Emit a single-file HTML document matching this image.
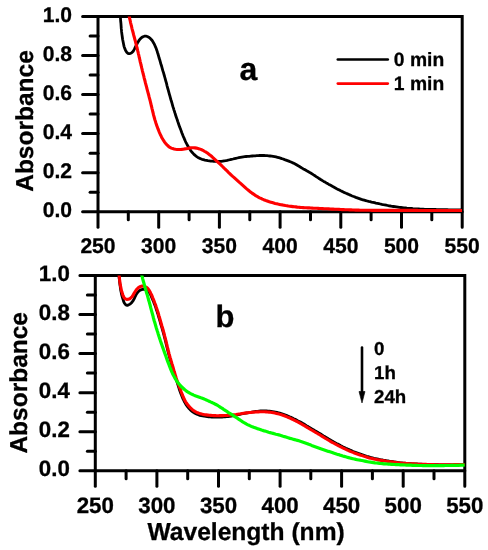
<!DOCTYPE html>
<html><head><meta charset="utf-8"><title>Absorbance spectra</title>
<style>html,body{margin:0;padding:0;background:#fff;}svg{display:block;}svg text{font-family:"Liberation Sans","Arial",sans-serif;font-weight:bold;stroke:#000;stroke-width:0.3px;text-rendering:geometricPrecision;}</style></head>
<body>
<svg width="488" height="550" viewBox="0 0 488 550" fill="#000">
<rect width="488" height="550" fill="#fff"/>
<defs><clipPath id="ca"><rect x="98" y="16.4" width="364.2" height="198"/></clipPath><clipPath id="cb"><rect x="95.3" y="275.5" width="369.5" height="198"/></clipPath></defs>
<g fill="none" stroke="#000" stroke-width="3" stroke-linecap="round" stroke-linejoin="miter"><path d="M82.6,16.4 H462.2 V227.2" /><path d="M98.0,16.4 V227.2" /><path d="M82.6,211.8 H462.2" /><path d="M90.1,35.9 H98.0" /><path d="M82.6,55.5 H98.0" /><path d="M90.1,75.0 H98.0" /><path d="M82.6,94.6 H98.0" /><path d="M90.1,114.1 H98.0" /><path d="M82.6,133.6 H98.0" /><path d="M90.1,153.2 H98.0" /><path d="M82.6,172.7 H98.0" /><path d="M90.1,192.3 H98.0" /><path d="M128.3,211.8 V219.7" /><path d="M158.7,211.8 V227.2" /><path d="M189.1,211.8 V219.7" /><path d="M219.4,211.8 V227.2" /><path d="M249.8,211.8 V219.7" /><path d="M280.1,211.8 V227.2" /><path d="M310.5,211.8 V219.7" /><path d="M340.8,211.8 V227.2" /><path d="M371.1,211.8 V219.7" /><path d="M401.5,211.8 V227.2" /><path d="M431.8,211.8 V219.7" /></g>
<g clip-path="url(#ca)" fill="none" stroke-width="2.8" stroke-linejoin="round" stroke-linecap="butt">
<path d="M120.2,14.0 L120.3,15.5 L120.4,17.0 L120.5,18.5 L120.6,20.0 L120.7,21.5 L120.9,23.0 L121.0,24.4 L121.1,25.9 L121.2,27.4 L121.3,28.9 L121.5,30.4 L121.6,31.9 L121.8,33.4 L122.0,34.9 L122.2,36.3 L122.4,37.8 L122.6,39.3 L122.9,40.8 L123.2,42.3 L123.5,43.7 L123.8,45.2 L124.1,46.6 L124.6,48.0 L125.1,49.4 L125.8,50.8 L126.7,52.2 L127.8,53.3 L129.1,53.7 L130.6,53.4 L131.9,52.6 L133.0,51.5 L133.8,50.2 L134.5,48.9 L135.2,47.5 L135.8,46.2 L136.5,44.8 L137.2,43.5 L137.9,42.2 L138.7,40.9 L139.5,39.7 L140.5,38.6 L141.7,37.5 L143.0,36.7 L144.4,36.2 L145.9,36.1 L147.3,36.5 L148.7,37.2 L149.9,38.1 L151.0,39.2 L152.0,40.3 L152.8,41.6 L153.6,42.9 L154.3,44.2 L154.9,45.5 L155.5,46.9 L156.1,48.3 L156.6,49.7 L157.1,51.1 L157.5,52.5 L158.0,54.0 L158.4,55.4 L158.8,56.9 L159.2,58.3 L159.7,59.7 L160.1,61.2 L160.5,62.6 L160.9,64.0 L161.4,65.5 L161.8,66.9 L162.2,68.3 L162.6,69.8 L163.0,71.2 L163.5,72.6 L163.9,74.1 L164.3,75.5 L164.7,77.0 L165.1,78.4 L165.5,79.8 L165.9,81.3 L166.3,82.7 L166.7,84.2 L167.0,85.6 L167.4,87.1 L167.8,88.5 L168.2,89.9 L168.6,91.4 L169.0,92.8 L169.4,94.3 L169.8,95.7 L170.2,97.1 L170.6,98.6 L171.0,100.0 L171.5,101.5 L171.9,102.9 L172.3,104.3 L172.7,105.8 L173.1,107.2 L173.6,108.6 L174.0,110.1 L174.5,111.5 L174.9,112.9 L175.4,114.3 L175.8,115.8 L176.3,117.2 L176.8,118.6 L177.3,120.0 L177.7,121.4 L178.2,122.8 L178.7,124.3 L179.2,125.7 L179.7,127.1 L180.3,128.5 L180.8,129.9 L181.3,131.3 L181.8,132.7 L182.4,134.1 L182.9,135.5 L183.5,136.9 L184.1,138.2 L184.7,139.6 L185.3,141.0 L185.9,142.3 L186.6,143.7 L187.3,145.0 L188.0,146.3 L188.8,147.6 L189.6,148.8 L190.4,150.1 L191.3,151.3 L192.3,152.5 L193.3,153.6 L194.3,154.7 L195.5,155.7 L196.7,156.6 L197.9,157.4 L199.2,158.1 L200.6,158.7 L202.0,159.3 L203.4,159.7 L204.9,160.1 L206.4,160.4 L207.8,160.7 L209.3,160.9 L210.8,161.1 L212.3,161.2 L213.8,161.3 L215.3,161.4 L216.8,161.4 L218.3,161.4 L219.8,161.4 L221.3,161.3 L222.8,161.1 L224.2,160.9 L225.7,160.7 L227.2,160.4 L228.6,160.0 L230.1,159.7 L231.5,159.3 L233.0,159.0 L234.5,158.6 L235.9,158.3 L237.4,158.0 L238.8,157.7 L240.3,157.4 L241.8,157.1 L243.3,156.9 L244.7,156.7 L246.2,156.5 L247.7,156.4 L249.2,156.3 L250.7,156.1 L252.2,156.0 L253.7,155.9 L255.2,155.8 L256.7,155.7 L258.2,155.6 L259.7,155.5 L261.2,155.5 L262.6,155.5 L264.1,155.5 L265.6,155.6 L267.1,155.7 L268.6,155.8 L270.1,156.0 L271.6,156.2 L273.1,156.4 L274.6,156.6 L276.0,156.9 L277.5,157.3 L278.9,157.7 L280.4,158.1 L281.8,158.6 L283.2,159.0 L284.6,159.6 L286.0,160.1 L287.4,160.6 L288.8,161.1 L290.2,161.7 L291.6,162.3 L292.9,162.9 L294.3,163.5 L295.6,164.2 L296.9,165.0 L298.2,165.8 L299.5,166.5 L300.7,167.3 L302.0,168.1 L303.3,168.9 L304.6,169.6 L305.9,170.3 L307.2,171.1 L308.5,171.8 L309.8,172.6 L311.1,173.3 L312.4,174.1 L313.6,174.9 L314.9,175.7 L316.1,176.6 L317.4,177.4 L318.6,178.2 L319.9,179.0 L321.1,179.8 L322.4,180.6 L323.7,181.4 L325.0,182.1 L326.3,182.9 L327.6,183.6 L328.9,184.4 L330.2,185.1 L331.5,185.8 L332.8,186.6 L334.1,187.3 L335.4,188.0 L336.7,188.7 L338.1,189.4 L339.4,190.1 L340.7,190.8 L342.1,191.4 L343.4,192.1 L344.8,192.7 L346.1,193.3 L347.5,193.9 L348.9,194.5 L350.3,195.1 L351.6,195.7 L353.0,196.3 L354.4,196.8 L355.8,197.4 L357.2,197.9 L358.6,198.4 L360.0,198.9 L361.4,199.4 L362.9,199.8 L364.3,200.2 L365.7,200.6 L367.2,201.0 L368.6,201.4 L370.1,201.7 L371.5,202.1 L373.0,202.4 L374.5,202.7 L375.9,203.1 L377.4,203.4 L378.8,203.7 L380.3,204.0 L381.8,204.4 L383.2,204.7 L384.7,204.9 L386.2,205.2 L387.6,205.5 L389.1,205.8 L390.6,206.0 L392.1,206.3 L393.5,206.5 L395.0,206.7 L396.5,206.9 L398.0,207.1 L399.5,207.3 L400.9,207.5 L402.4,207.7 L403.9,207.9 L405.4,208.0 L406.9,208.2 L408.4,208.3 L409.9,208.4 L411.4,208.5 L412.9,208.7 L414.4,208.8 L415.8,208.9 L417.3,208.9 L418.8,209.0 L420.3,209.1 L421.8,209.1 L423.3,209.2 L424.8,209.3 L426.3,209.3 L427.8,209.3 L429.3,209.4 L430.8,209.4 L432.3,209.5 L433.8,209.5 L435.3,209.5 L436.8,209.6 L438.3,209.6 L439.8,209.6 L441.3,209.6 L442.8,209.7 L444.3,209.7 L445.7,209.7 L447.2,209.7 L448.7,209.8 L450.2,209.8 L451.7,209.8 L453.2,209.8 L454.7,209.8 L456.2,209.8 L457.7,209.9 L459.2,209.9 L460.7,209.9 L462.2,209.9" stroke="#000"/>
<path d="M128.8,14.0 L129.1,15.5 L129.3,16.9 L129.6,18.4 L130.0,19.9 L130.3,21.3 L130.6,22.8 L131.0,24.3 L131.3,25.7 L131.7,27.2 L132.0,28.6 L132.4,30.1 L132.8,31.5 L133.2,33.0 L133.5,34.4 L133.9,35.9 L134.3,37.3 L134.7,38.8 L135.1,40.2 L135.5,41.7 L135.8,43.1 L136.2,44.6 L136.6,46.0 L136.9,47.5 L137.3,48.9 L137.6,50.4 L138.0,51.9 L138.3,53.3 L138.7,54.8 L139.0,56.2 L139.3,57.7 L139.7,59.2 L140.0,60.6 L140.3,62.1 L140.7,63.5 L141.0,65.0 L141.4,66.4 L141.7,67.9 L142.1,69.4 L142.4,70.8 L142.8,72.3 L143.1,73.7 L143.5,75.2 L143.9,76.6 L144.2,78.1 L144.6,79.5 L145.0,81.0 L145.3,82.4 L145.7,83.9 L146.1,85.4 L146.5,86.8 L146.8,88.2 L147.2,89.7 L147.6,91.1 L148.0,92.6 L148.4,94.0 L148.8,95.5 L149.1,96.9 L149.5,98.4 L149.9,99.8 L150.3,101.3 L150.6,102.8 L151.0,104.2 L151.3,105.7 L151.7,107.1 L152.0,108.6 L152.4,110.0 L152.7,111.5 L153.1,112.9 L153.4,114.4 L153.8,115.9 L154.2,117.3 L154.6,118.7 L155.0,120.2 L155.5,121.6 L155.9,123.0 L156.4,124.5 L156.9,125.9 L157.4,127.3 L157.9,128.7 L158.5,130.1 L159.0,131.5 L159.6,132.9 L160.2,134.2 L160.9,135.6 L161.5,136.9 L162.2,138.2 L163.0,139.6 L163.8,140.8 L164.6,142.1 L165.5,143.3 L166.5,144.4 L167.6,145.5 L168.7,146.5 L169.9,147.4 L171.3,148.1 L172.7,148.6 L174.1,149.0 L175.6,149.3 L177.1,149.5 L178.6,149.5 L180.1,149.5 L181.6,149.4 L183.1,149.2 L184.6,148.9 L186.1,148.7 L187.6,148.4 L189.0,148.1 L190.5,147.9 L192.0,147.8 L193.5,147.8 L195.0,147.9 L196.5,148.1 L198.0,148.5 L199.4,148.9 L200.8,149.4 L202.2,150.0 L203.5,150.7 L204.8,151.5 L206.1,152.2 L207.4,153.1 L208.6,154.0 L209.8,154.9 L210.9,155.8 L212.1,156.8 L213.2,157.8 L214.3,158.8 L215.4,159.8 L216.5,160.8 L217.6,161.8 L218.7,162.9 L219.8,163.9 L220.9,164.9 L222.0,166.0 L223.0,167.0 L224.1,168.1 L225.2,169.1 L226.2,170.2 L227.3,171.2 L228.4,172.3 L229.5,173.3 L230.5,174.3 L231.6,175.4 L232.7,176.4 L233.9,177.4 L235.0,178.4 L236.1,179.4 L237.2,180.4 L238.3,181.4 L239.4,182.4 L240.6,183.4 L241.7,184.4 L242.8,185.4 L243.9,186.4 L245.0,187.4 L246.1,188.4 L247.3,189.4 L248.4,190.3 L249.6,191.3 L250.8,192.2 L252.0,193.1 L253.2,193.9 L254.5,194.8 L255.7,195.6 L257.0,196.3 L258.3,197.1 L259.6,197.8 L261.0,198.4 L262.3,199.1 L263.7,199.7 L265.1,200.2 L266.5,200.8 L267.9,201.3 L269.3,201.8 L270.8,202.2 L272.2,202.6 L273.7,203.0 L275.1,203.4 L276.6,203.7 L278.0,204.1 L279.5,204.4 L281.0,204.7 L282.4,204.9 L283.9,205.2 L285.4,205.5 L286.9,205.7 L288.3,206.0 L289.8,206.2 L291.3,206.4 L292.8,206.6 L294.3,206.8 L295.8,206.9 L297.3,207.1 L298.8,207.2 L300.2,207.4 L301.7,207.5 L303.2,207.6 L304.7,207.7 L306.2,207.8 L307.7,207.9 L309.2,207.9 L310.7,208.0 L312.2,208.1 L313.7,208.2 L315.2,208.2 L316.7,208.3 L318.2,208.4 L319.7,208.5 L321.2,208.5 L322.7,208.6 L324.2,208.7 L325.7,208.8 L327.2,208.8 L328.7,208.9 L330.2,209.0 L331.7,209.1 L333.2,209.1 L334.7,209.2 L336.2,209.3 L337.7,209.3 L339.1,209.4 L340.6,209.5 L342.1,209.6 L343.6,209.6 L345.1,209.7 L346.6,209.7 L348.1,209.8 L349.6,209.9 L351.1,209.9 L352.6,210.0 L354.1,210.0 L355.6,210.1 L357.1,210.1 L358.6,210.1 L360.1,210.2 L361.6,210.2 L363.1,210.2 L364.6,210.3 L366.1,210.3 L367.6,210.3 L369.1,210.3 L370.6,210.3 L372.1,210.4 L373.6,210.4 L375.1,210.4 L376.6,210.4 L378.1,210.4 L379.6,210.4 L381.1,210.4 L382.6,210.4 L384.1,210.4 L385.6,210.4 L387.1,210.4 L388.6,210.4 L390.1,210.4 L391.6,210.4 L393.1,210.4 L394.6,210.4 L396.1,210.4 L397.6,210.4 L399.1,210.4 L400.6,210.4 L402.1,210.4 L403.6,210.4 L405.1,210.4 L406.6,210.4 L408.1,210.4 L409.6,210.4 L411.1,210.4 L412.6,210.4 L414.1,210.4 L415.6,210.4 L417.0,210.4 L418.5,210.5 L420.0,210.5 L421.5,210.5 L423.0,210.5 L424.5,210.5 L426.0,210.5 L427.5,210.5 L429.0,210.5 L430.5,210.5 L432.0,210.5 L433.5,210.5 L435.0,210.5 L436.5,210.5 L438.0,210.5 L439.5,210.5 L441.0,210.5 L442.5,210.5 L444.0,210.5 L445.5,210.5 L447.0,210.5 L448.5,210.5 L450.0,210.5 L451.5,210.5 L453.0,210.5 L454.5,210.5 L456.0,210.5 L457.5,210.5 L459.0,210.5 L460.5,210.5 L462.0,210.5" stroke="#f00" stroke-width="3.1"/>
</g>
<text x="72.1" y="21.8" text-anchor="end" font-size="21.1">1.0</text><text x="72.1" y="60.9" text-anchor="end" font-size="21.1">0.8</text><text x="72.1" y="100.0" text-anchor="end" font-size="21.1">0.6</text><text x="72.1" y="139.0" text-anchor="end" font-size="21.1">0.4</text><text x="72.1" y="178.1" text-anchor="end" font-size="21.1">0.2</text><text x="72.1" y="217.2" text-anchor="end" font-size="21.1">0.0</text>
<text x="98.0" y="253.3" text-anchor="middle" font-size="21.1">250</text><text x="158.7" y="253.3" text-anchor="middle" font-size="21.1">300</text><text x="219.4" y="253.3" text-anchor="middle" font-size="21.1">350</text><text x="280.1" y="253.3" text-anchor="middle" font-size="21.1">400</text><text x="340.8" y="253.3" text-anchor="middle" font-size="21.1">450</text><text x="401.5" y="253.3" text-anchor="middle" font-size="21.1">500</text><text x="462.2" y="253.3" text-anchor="middle" font-size="21.1">550</text>
<text transform="translate(33.3,121) rotate(-90)" text-anchor="middle" font-size="24.5">Absorbance</text>
<text x="239.5" y="79.8" font-size="32">a</text>
<g fill="none" stroke-width="2.6" stroke-linecap="round"><path d="M337.8,59.5 H387.8" stroke="#000"/><path d="M337.8,83.6 H387.8" stroke="#f00"/></g>
<text x="393.8" y="66" font-size="19.3">0 min</text>
<text x="393.8" y="90" font-size="19.3">1 min</text>
<g fill="none" stroke="#000" stroke-width="3" stroke-linecap="round" stroke-linejoin="miter"><path d="M79.9,275.5 H464.8 V486.2" /><path d="M95.3,275.5 V486.2" /><path d="M79.9,470.8 H464.8" /><path d="M87.4,295.0 H95.3" /><path d="M79.9,314.6 H95.3" /><path d="M87.4,334.1 H95.3" /><path d="M79.9,353.6 H95.3" /><path d="M87.4,373.1 H95.3" /><path d="M79.9,392.7 H95.3" /><path d="M87.4,412.2 H95.3" /><path d="M79.9,431.7 H95.3" /><path d="M87.4,451.3 H95.3" /><path d="M126.1,470.8 V478.7" /><path d="M156.9,470.8 V486.2" /><path d="M187.7,470.8 V478.7" /><path d="M218.5,470.8 V486.2" /><path d="M249.3,470.8 V478.7" /><path d="M280.1,470.8 V486.2" /><path d="M310.8,470.8 V478.7" /><path d="M341.6,470.8 V486.2" /><path d="M372.4,470.8 V478.7" /><path d="M403.2,470.8 V486.2" /><path d="M434.0,470.8 V478.7" /></g>
<g clip-path="url(#cb)" fill="none" stroke-width="2.8" stroke-linejoin="round" stroke-linecap="butt">
<path d="M118.6,273.0 L118.8,274.5 L119.0,276.0 L119.1,277.5 L119.3,279.0 L119.5,280.5 L119.6,282.0 L119.8,283.5 L120.0,285.0 L120.2,286.4 L120.4,287.9 L120.6,289.3 L120.8,290.7 L121.1,292.0 L121.4,293.4 L121.7,294.9 L122.1,296.4 L122.6,298.0 L123.1,299.7 L123.6,301.4 L124.3,303.0 L125.2,304.2 L126.1,305.1 L127.3,305.3 L128.6,304.9 L130.0,304.1 L131.3,303.0 L132.4,301.7 L133.3,300.4 L134.0,299.1 L134.6,297.8 L135.2,296.5 L135.9,295.1 L136.6,293.8 L137.5,292.6 L138.5,291.5 L139.7,290.5 L141.0,289.8 L142.5,289.4 L144.0,289.3 L145.5,289.6 L146.9,290.2 L148.1,291.1 L149.1,292.2 L149.9,293.5 L150.6,294.8 L151.2,296.2 L151.8,297.6 L152.4,299.0 L153.0,300.4 L153.6,301.8 L154.1,303.2 L154.6,304.5 L155.2,305.9 L155.7,307.3 L156.1,308.7 L156.6,310.2 L157.1,311.6 L157.5,313.0 L158.0,314.4 L158.4,315.9 L158.8,317.3 L159.3,318.8 L159.7,320.2 L160.1,321.6 L160.5,323.1 L160.9,324.5 L161.4,326.0 L161.8,327.4 L162.2,328.8 L162.6,330.3 L163.0,331.7 L163.4,333.2 L163.8,334.6 L164.2,336.1 L164.6,337.5 L164.9,338.9 L165.3,340.4 L165.7,341.9 L166.0,343.3 L166.4,344.8 L166.7,346.2 L167.1,347.7 L167.4,349.1 L167.8,350.6 L168.1,352.0 L168.5,353.5 L168.9,354.9 L169.3,356.4 L169.7,357.8 L170.1,359.3 L170.5,360.7 L171.0,362.1 L171.4,363.6 L171.8,365.0 L172.2,366.4 L172.7,367.9 L173.1,369.3 L173.6,370.7 L174.0,372.2 L174.4,373.6 L174.9,375.0 L175.3,376.4 L175.7,377.9 L176.2,379.3 L176.6,380.7 L177.1,382.2 L177.5,383.6 L178.0,385.0 L178.4,386.5 L178.9,387.9 L179.3,389.3 L179.8,390.7 L180.3,392.1 L180.8,393.5 L181.4,394.9 L181.9,396.3 L182.5,397.7 L183.1,399.1 L183.8,400.4 L184.4,401.8 L185.2,403.1 L185.9,404.4 L186.8,405.6 L187.7,406.8 L188.6,408.0 L189.6,409.1 L190.7,410.2 L191.8,411.2 L193.0,412.1 L194.3,412.9 L195.6,413.6 L196.9,414.3 L198.3,414.8 L199.8,415.3 L201.2,415.6 L202.7,415.9 L204.2,416.2 L205.7,416.4 L207.2,416.6 L208.6,416.8 L210.1,416.9 L211.6,417.0 L213.1,417.1 L214.6,417.1 L216.1,417.1 L217.6,417.1 L219.1,417.1 L220.6,417.1 L222.1,417.0 L223.6,416.9 L225.1,416.8 L226.6,416.6 L228.1,416.5 L229.6,416.3 L231.0,416.1 L232.5,415.8 L234.0,415.6 L235.5,415.3 L236.9,415.0 L238.4,414.7 L239.8,414.3 L241.3,414.0 L242.8,413.7 L244.2,413.4 L245.7,413.1 L247.2,412.8 L248.7,412.6 L250.1,412.3 L251.6,412.1 L253.1,411.8 L254.6,411.6 L256.1,411.4 L257.5,411.3 L259.0,411.1 L260.5,411.0 L262.0,411.0 L263.5,410.9 L265.0,410.9 L266.5,411.0 L268.0,411.1 L269.5,411.2 L271.0,411.4 L272.5,411.6 L274.0,411.8 L275.4,412.1 L276.9,412.4 L278.4,412.8 L279.8,413.2 L281.2,413.6 L282.7,414.1 L284.1,414.6 L285.5,415.1 L286.9,415.6 L288.3,416.2 L289.6,416.8 L291.0,417.4 L292.4,418.0 L293.7,418.7 L295.1,419.3 L296.4,420.0 L297.7,420.7 L299.1,421.4 L300.4,422.1 L301.7,422.8 L303.0,423.6 L304.3,424.3 L305.6,425.1 L306.8,425.9 L308.1,426.6 L309.4,427.4 L310.7,428.2 L312.0,429.0 L313.3,429.7 L314.5,430.5 L315.8,431.2 L317.1,432.0 L318.4,432.8 L319.7,433.5 L321.0,434.3 L322.3,435.1 L323.5,435.9 L324.8,436.6 L326.1,437.4 L327.4,438.2 L328.6,439.0 L329.9,439.7 L331.2,440.5 L332.5,441.2 L333.8,442.0 L335.1,442.7 L336.4,443.4 L337.8,444.1 L339.1,444.8 L340.4,445.5 L341.8,446.2 L343.1,446.9 L344.4,447.5 L345.8,448.2 L347.2,448.8 L348.5,449.4 L349.9,450.0 L351.3,450.6 L352.6,451.2 L354.0,451.8 L355.4,452.3 L356.8,452.8 L358.2,453.3 L359.6,453.8 L361.1,454.3 L362.5,454.8 L363.9,455.3 L365.3,455.8 L366.7,456.3 L368.2,456.7 L369.6,457.1 L371.0,457.5 L372.5,457.9 L373.9,458.3 L375.4,458.6 L376.9,458.9 L378.3,459.2 L379.8,459.5 L381.3,459.8 L382.7,460.0 L384.2,460.3 L385.7,460.5 L387.2,460.8 L388.6,461.0 L390.1,461.3 L391.6,461.5 L393.1,461.7 L394.6,462.0 L396.0,462.2 L397.5,462.4 L399.0,462.6 L400.5,462.8 L402.0,462.9 L403.5,463.1 L405.0,463.2 L406.5,463.3 L407.9,463.5 L409.4,463.6 L410.9,463.7 L412.4,463.8 L413.9,463.8 L415.4,463.9 L416.9,464.0 L418.4,464.1 L419.9,464.2 L421.4,464.2 L422.9,464.3 L424.4,464.4 L425.9,464.4 L427.4,464.5 L428.9,464.5 L430.4,464.6 L431.9,464.6 L433.4,464.7 L434.9,464.7 L436.4,464.7 L437.9,464.7 L439.4,464.8 L440.9,464.8 L442.3,464.8 L443.8,464.8 L445.3,464.8 L446.8,464.8 L448.3,464.8 L449.8,464.8 L451.3,464.8 L452.8,464.8 L454.3,464.8 L455.8,464.7 L457.3,464.7 L458.8,464.7 L460.3,464.7 L461.8,464.7 L463.3,464.6 L464.8,464.6" stroke="#000"/>
<path d="M118.8,273.0 L119.0,274.5 L119.2,276.0 L119.4,277.5 L119.5,279.0 L119.7,280.5 L119.9,282.0 L120.1,283.5 L120.3,284.9 L120.6,286.4 L120.9,287.8 L121.2,289.2 L121.5,290.7 L121.9,292.1 L122.4,293.6 L122.9,295.1 L123.5,296.6 L124.3,298.0 L125.4,298.9 L126.7,299.4 L128.3,299.2 L129.8,298.7 L131.0,297.8 L132.0,296.7 L132.9,295.5 L133.6,294.1 L134.4,292.8 L135.2,291.5 L136.0,290.3 L137.0,289.1 L138.0,288.1 L139.3,287.1 L140.6,286.4 L142.1,286.0 L143.5,286.1 L145.0,286.6 L146.3,287.3 L147.6,288.3 L148.6,289.5 L149.4,290.7 L150.2,292.0 L150.8,293.4 L151.5,294.7 L152.1,296.1 L152.6,297.5 L153.2,298.9 L153.8,300.3 L154.3,301.7 L154.8,303.1 L155.4,304.5 L155.9,305.9 L156.3,307.3 L156.8,308.7 L157.3,310.2 L157.7,311.6 L158.2,313.0 L158.6,314.5 L159.0,315.9 L159.5,317.3 L159.9,318.8 L160.3,320.2 L160.7,321.7 L161.1,323.1 L161.5,324.5 L161.9,326.0 L162.4,327.4 L162.8,328.9 L163.2,330.3 L163.6,331.8 L164.0,333.2 L164.4,334.7 L164.7,336.1 L165.1,337.6 L165.5,339.0 L165.8,340.5 L166.2,341.9 L166.5,343.4 L166.9,344.8 L167.2,346.3 L167.6,347.8 L167.9,349.2 L168.3,350.7 L168.7,352.1 L169.0,353.6 L169.4,355.0 L169.8,356.5 L170.2,357.9 L170.7,359.3 L171.1,360.8 L171.5,362.2 L171.9,363.7 L172.4,365.1 L172.8,366.5 L173.2,368.0 L173.6,369.4 L174.0,370.8 L174.5,372.3 L174.9,373.7 L175.3,375.2 L175.8,376.6 L176.2,378.0 L176.7,379.4 L177.2,380.9 L177.7,382.3 L178.2,383.7 L178.7,385.1 L179.2,386.5 L179.8,387.9 L180.3,389.3 L180.8,390.7 L181.3,392.1 L181.9,393.5 L182.4,394.9 L183.0,396.3 L183.6,397.7 L184.2,399.1 L184.9,400.4 L185.6,401.7 L186.4,403.0 L187.3,404.2 L188.2,405.4 L189.2,406.5 L190.2,407.6 L191.3,408.7 L192.4,409.7 L193.6,410.6 L194.9,411.4 L196.2,412.1 L197.6,412.8 L199.0,413.3 L200.4,413.7 L201.8,414.1 L203.3,414.4 L204.8,414.7 L206.3,414.9 L207.8,415.1 L209.3,415.3 L210.8,415.4 L212.3,415.5 L213.8,415.6 L215.3,415.6 L216.8,415.7 L218.3,415.7 L219.8,415.6 L221.3,415.6 L222.8,415.6 L224.3,415.5 L225.8,415.5 L227.3,415.4 L228.8,415.3 L230.2,415.2 L231.7,415.0 L233.2,414.9 L234.7,414.7 L236.2,414.5 L237.7,414.2 L239.2,414.0 L240.6,413.8 L242.1,413.5 L243.6,413.3 L245.1,413.1 L246.6,412.9 L248.1,412.7 L249.5,412.5 L251.0,412.4 L252.5,412.2 L254.0,412.1 L255.5,412.0 L257.0,411.9 L258.5,411.9 L260.0,411.8 L261.5,411.8 L263.0,411.8 L264.5,411.8 L266.0,411.9 L267.5,412.0 L269.0,412.1 L270.5,412.3 L272.0,412.5 L273.5,412.8 L274.9,413.1 L276.4,413.4 L277.9,413.7 L279.3,414.1 L280.8,414.6 L282.2,415.0 L283.6,415.5 L285.0,416.0 L286.4,416.6 L287.8,417.2 L289.2,417.7 L290.5,418.4 L291.9,419.0 L293.2,419.6 L294.6,420.3 L295.9,421.0 L297.3,421.7 L298.6,422.4 L299.9,423.1 L301.2,423.8 L302.5,424.6 L303.8,425.3 L305.1,426.1 L306.4,426.9 L307.6,427.7 L308.9,428.4 L310.2,429.2 L311.5,430.0 L312.8,430.7 L314.1,431.5 L315.4,432.3 L316.7,433.0 L318.0,433.8 L319.3,434.5 L320.5,435.3 L321.8,436.1 L323.1,436.9 L324.4,437.7 L325.6,438.5 L326.9,439.2 L328.2,440.0 L329.5,440.8 L330.8,441.6 L332.1,442.3 L333.4,443.0 L334.7,443.7 L336.0,444.4 L337.4,445.1 L338.7,445.8 L340.0,446.5 L341.4,447.2 L342.7,447.9 L344.1,448.5 L345.4,449.2 L346.8,449.8 L348.1,450.4 L349.5,451.0 L350.9,451.6 L352.3,452.1 L353.7,452.7 L355.1,453.2 L356.5,453.7 L357.9,454.2 L359.3,454.7 L360.8,455.2 L362.2,455.6 L363.6,456.1 L365.0,456.6 L366.5,457.0 L367.9,457.5 L369.3,457.9 L370.8,458.3 L372.2,458.6 L373.7,459.0 L375.2,459.3 L376.6,459.6 L378.1,459.9 L379.6,460.1 L381.1,460.4 L382.6,460.6 L384.0,460.8 L385.5,461.0 L387.0,461.3 L388.5,461.5 L390.0,461.7 L391.5,461.9 L392.9,462.1 L394.4,462.3 L395.9,462.5 L397.4,462.7 L398.9,462.9 L400.4,463.0 L401.9,463.2 L403.4,463.3 L404.9,463.4 L406.4,463.5 L407.9,463.6 L409.3,463.7 L410.8,463.8 L412.3,463.9 L413.8,463.9 L415.3,464.0 L416.8,464.1 L418.3,464.2 L419.8,464.2 L421.3,464.3 L422.8,464.3 L424.3,464.4 L425.8,464.4 L427.3,464.5 L428.8,464.5 L430.3,464.6 L431.8,464.6 L433.3,464.6 L434.8,464.7 L436.3,464.7 L437.8,464.7 L439.3,464.7 L440.8,464.7 L442.3,464.7 L443.8,464.7 L445.3,464.7 L446.8,464.7 L448.3,464.7 L449.8,464.7 L451.3,464.7 L452.8,464.7 L454.3,464.6 L455.8,464.6 L457.3,464.6 L458.8,464.6 L460.3,464.6 L461.8,464.5 L463.3,464.5 L464.8,464.5" stroke="#f00" stroke-width="3.1"/>
<path d="M141.4,273.0 L141.7,274.5 L142.0,275.9 L142.4,277.4 L142.7,278.8 L143.1,280.3 L143.5,281.7 L143.9,283.2 L144.3,284.6 L144.7,286.1 L145.1,287.5 L145.5,289.0 L145.9,290.4 L146.3,291.8 L146.7,293.3 L147.2,294.7 L147.6,296.2 L148.0,297.6 L148.4,299.0 L148.8,300.5 L149.2,301.9 L149.6,303.4 L150.0,304.8 L150.4,306.3 L150.7,307.7 L151.1,309.2 L151.5,310.6 L151.9,312.1 L152.3,313.5 L152.7,315.0 L153.1,316.4 L153.4,317.9 L153.8,319.3 L154.2,320.7 L154.7,322.2 L155.1,323.6 L155.5,325.1 L155.9,326.5 L156.3,327.9 L156.8,329.4 L157.2,330.8 L157.7,332.2 L158.1,333.7 L158.6,335.1 L159.0,336.5 L159.5,337.9 L160.0,339.4 L160.4,340.8 L160.9,342.2 L161.4,343.6 L161.9,345.0 L162.4,346.5 L162.9,347.9 L163.4,349.3 L163.9,350.7 L164.4,352.1 L164.9,353.5 L165.4,354.9 L165.9,356.3 L166.4,357.7 L166.9,359.2 L167.4,360.6 L167.9,362.0 L168.5,363.4 L169.0,364.8 L169.5,366.2 L170.1,367.6 L170.6,369.0 L171.2,370.4 L171.8,371.8 L172.4,373.1 L173.0,374.5 L173.7,375.8 L174.4,377.1 L175.1,378.4 L175.9,379.7 L176.7,381.0 L177.6,382.2 L178.5,383.4 L179.5,384.5 L180.5,385.7 L181.5,386.8 L182.6,387.8 L183.7,388.8 L184.8,389.8 L186.0,390.7 L187.2,391.6 L188.5,392.4 L189.8,393.2 L191.1,393.9 L192.5,394.5 L193.8,395.1 L195.2,395.7 L196.6,396.2 L198.0,396.7 L199.4,397.2 L200.9,397.8 L202.3,398.3 L203.6,398.8 L205.0,399.4 L206.4,400.0 L207.8,400.6 L209.1,401.2 L210.5,401.9 L211.9,402.5 L213.2,403.1 L214.6,403.8 L215.9,404.5 L217.2,405.2 L218.5,406.0 L219.8,406.8 L221.0,407.6 L222.3,408.4 L223.5,409.3 L224.8,410.1 L226.0,410.9 L227.3,411.7 L228.5,412.6 L229.8,413.3 L231.1,414.1 L232.3,414.9 L233.6,415.7 L234.8,416.6 L236.1,417.4 L237.3,418.2 L238.6,419.1 L239.8,419.9 L241.1,420.8 L242.3,421.6 L243.6,422.4 L244.9,423.1 L246.2,423.9 L247.5,424.6 L248.9,425.2 L250.2,425.9 L251.6,426.5 L253.0,427.0 L254.4,427.6 L255.8,428.1 L257.2,428.6 L258.6,429.0 L260.1,429.5 L261.5,430.0 L262.9,430.4 L264.3,430.9 L265.8,431.3 L267.2,431.7 L268.6,432.2 L270.1,432.6 L271.5,433.0 L273.0,433.4 L274.4,433.8 L275.9,434.2 L277.3,434.5 L278.8,434.9 L280.2,435.3 L281.6,435.7 L283.1,436.2 L284.5,436.6 L285.9,437.0 L287.4,437.5 L288.8,437.9 L290.2,438.4 L291.7,438.8 L293.1,439.2 L294.6,439.6 L296.0,440.0 L297.4,440.4 L298.9,440.8 L300.3,441.3 L301.7,441.7 L303.2,442.2 L304.6,442.7 L306.0,443.2 L307.4,443.7 L308.8,444.3 L310.2,444.8 L311.6,445.4 L313.0,445.9 L314.4,446.4 L315.8,446.9 L317.2,447.4 L318.6,447.9 L320.0,448.4 L321.4,448.9 L322.9,449.4 L324.3,449.9 L325.7,450.4 L327.1,450.9 L328.5,451.4 L329.9,451.8 L331.4,452.3 L332.8,452.8 L334.2,453.3 L335.6,453.7 L337.1,454.2 L338.5,454.6 L339.9,455.1 L341.4,455.5 L342.8,456.0 L344.2,456.4 L345.7,456.8 L347.1,457.2 L348.6,457.6 L350.0,458.0 L351.5,458.4 L352.9,458.7 L354.4,459.0 L355.8,459.4 L357.3,459.7 L358.8,460.0 L360.2,460.2 L361.7,460.5 L363.2,460.8 L364.7,461.1 L366.1,461.4 L367.6,461.7 L369.1,462.0 L370.5,462.2 L372.0,462.4 L373.5,462.7 L375.0,462.9 L376.5,463.0 L378.0,463.2 L379.5,463.4 L381.0,463.5 L382.4,463.6 L383.9,463.8 L385.4,463.9 L386.9,464.0 L388.4,464.1 L389.9,464.2 L391.4,464.4 L392.9,464.4 L394.4,464.5 L395.9,464.6 L397.4,464.7 L398.9,464.7 L400.4,464.8 L401.9,464.9 L403.4,464.9 L404.9,465.0 L406.4,465.1 L407.9,465.1 L409.4,465.2 L410.9,465.2 L412.4,465.3 L413.9,465.3 L415.4,465.4 L416.9,465.4 L418.4,465.5 L419.9,465.5 L421.4,465.5 L422.9,465.6 L424.3,465.6 L425.8,465.6 L427.3,465.6 L428.8,465.6 L430.3,465.6 L431.8,465.6 L433.3,465.6 L434.8,465.6 L436.3,465.6 L437.8,465.6 L439.3,465.6 L440.8,465.6 L442.3,465.6 L443.8,465.6 L445.3,465.5 L446.8,465.5 L448.3,465.5 L449.8,465.5 L451.3,465.4 L452.8,465.4 L454.3,465.4 L455.8,465.3 L457.3,465.3 L458.8,465.3 L460.3,465.2 L461.8,465.2 L463.3,465.1 L464.8,465.1" stroke="#0f0" stroke-width="3.2"/>
</g>
<text x="69.8" y="280.9" text-anchor="end" font-size="22.3">1.0</text><text x="69.8" y="320.0" text-anchor="end" font-size="22.3">0.8</text><text x="69.8" y="359.0" text-anchor="end" font-size="22.3">0.6</text><text x="69.8" y="398.1" text-anchor="end" font-size="22.3">0.4</text><text x="69.8" y="437.1" text-anchor="end" font-size="22.3">0.2</text><text x="69.8" y="476.2" text-anchor="end" font-size="22.3">0.0</text>
<text x="95.3" y="513.3" text-anchor="middle" font-size="22.3">250</text><text x="156.9" y="513.3" text-anchor="middle" font-size="22.3">300</text><text x="218.5" y="513.3" text-anchor="middle" font-size="22.3">350</text><text x="280.1" y="513.3" text-anchor="middle" font-size="22.3">400</text><text x="341.6" y="513.3" text-anchor="middle" font-size="22.3">450</text><text x="403.2" y="513.3" text-anchor="middle" font-size="22.3">500</text><text x="464.8" y="513.3" text-anchor="middle" font-size="22.3">550</text>
<text transform="translate(26.5,382.8) rotate(-90)" text-anchor="middle" font-size="24.5">Absorbance</text>
<text x="246.1" y="540" text-anchor="middle" font-size="24.6">Wavelength (nm)</text>
<text x="215.5" y="327" font-size="31">b</text>
<path d="M362,347.5 V393" stroke="#000" stroke-width="2.6" stroke-linecap="round" fill="none"/>
<path d="M359,391.5 L365,391.5 L362,403 Z" fill="#000" stroke="#000" stroke-width="0.6" stroke-linejoin="round"/>
<text x="374" y="355.3" font-size="18.7">0</text>
<text x="374" y="379.2" font-size="18.7">1h</text>
<text x="374" y="403.1" font-size="18.7">24h</text>
</svg>
</body></html>
